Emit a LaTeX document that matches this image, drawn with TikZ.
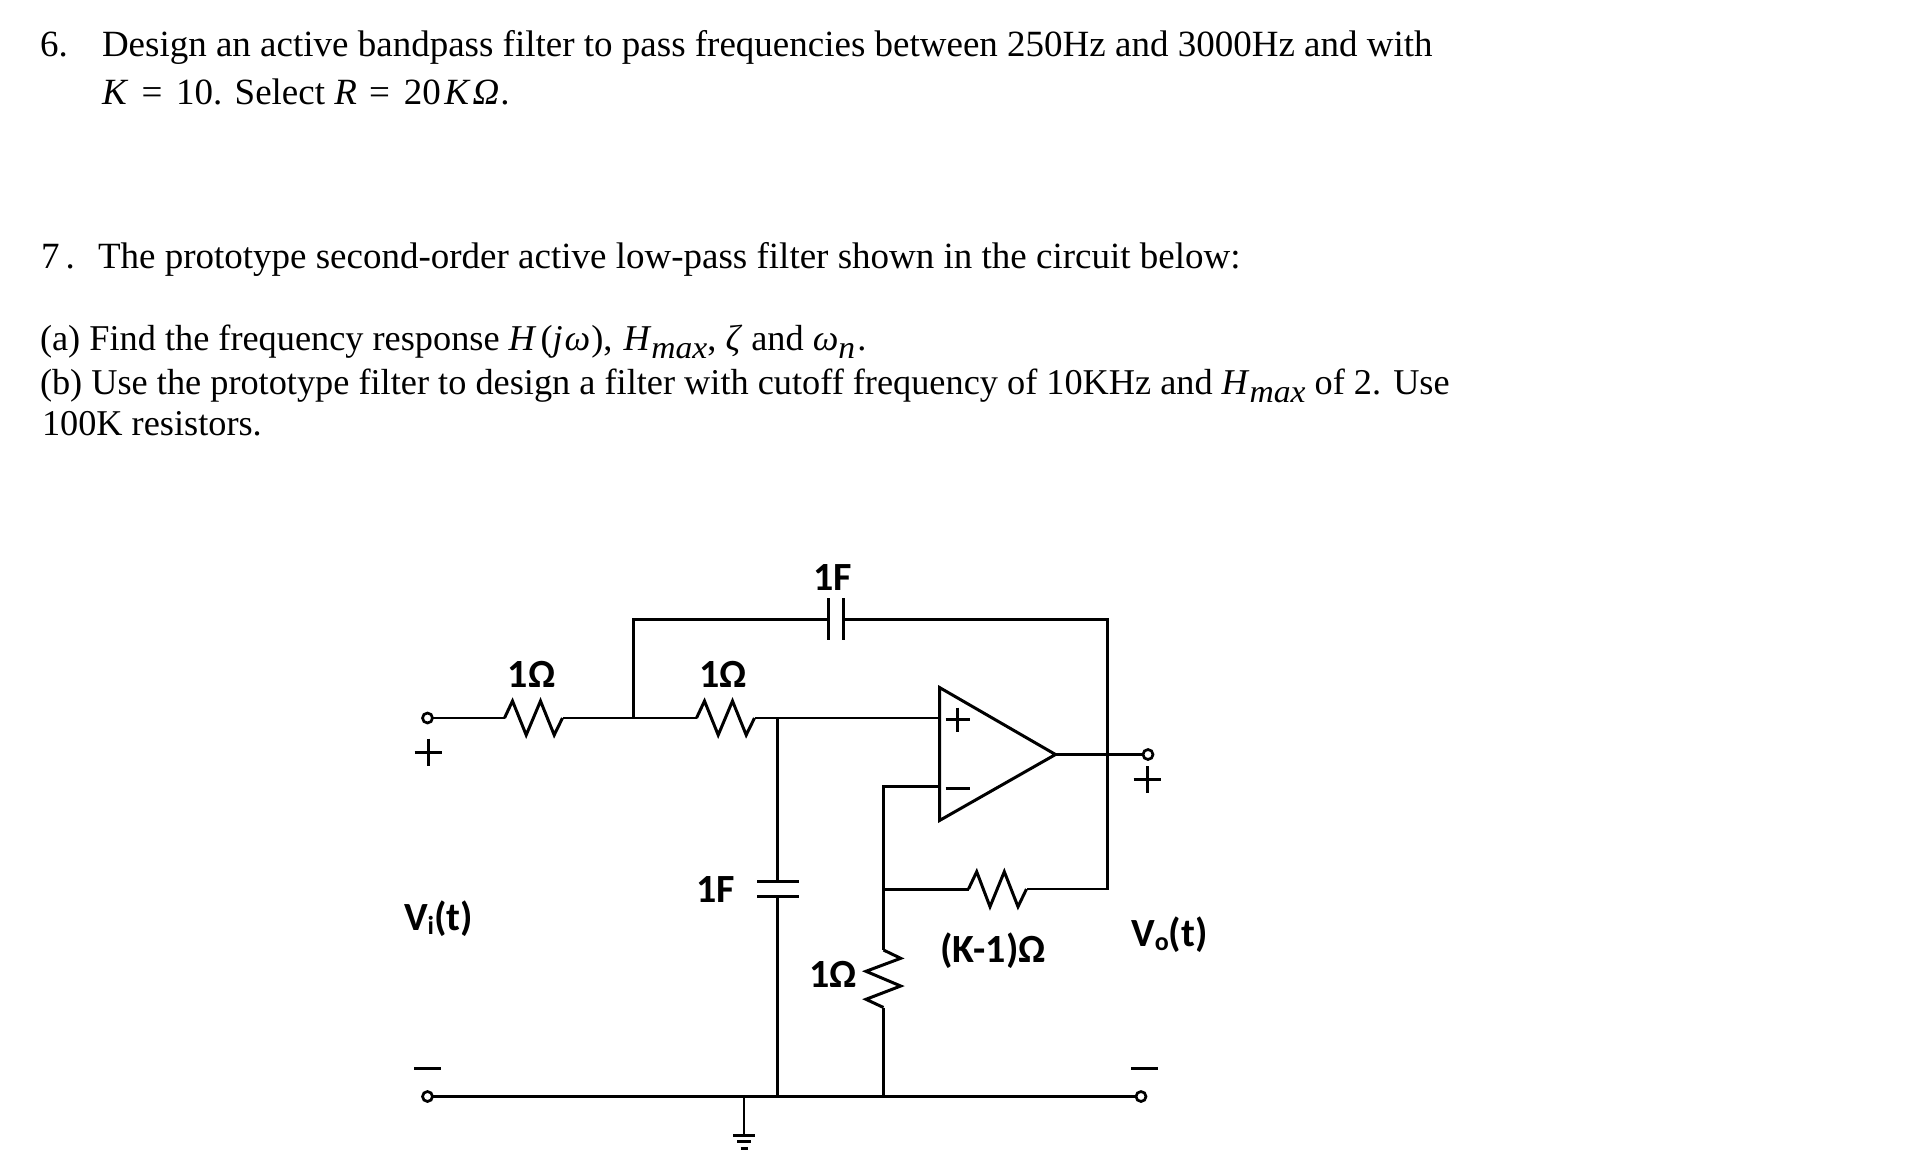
\documentclass[tikz,border=0pt]{standalone}
\usepackage{graphicx}
\usepackage{fontspec}
\setmainfont{Liberation Serif}
\newfontfamily\labelfont{Carlito}[BoldFont={Carlito Bold}]
\newcommand{\qsub}[1]{\raisebox{-7.5pt}{\scalebox{1.05}[1]{\fontsize{32}{32}\selectfont\itshape #1}}}
\newcommand{\qm}[1]{\textit{#1}}
\tikzset{
  wire/.style={line width=3pt,line join=miter,line cap=butt},
  thinwire/.style={line width=2.7pt,line join=miter,line cap=butt},
  markline/.style={line width=3pt},
  qtext/.style={anchor=base west,inner sep=0pt,outer sep=0pt,font=\fontsize{37}{37}\selectfont},
  qsmall/.style={anchor=base west,inner sep=0pt,outer sep=0pt,font=\fontsize{36.3}{36.3}\selectfont},
  clabel/.style={anchor=base,inner sep=0pt,outer sep=0pt,font=\fontsize{40}{40}\selectfont\labelfont\bfseries},
  terminal/.style={circle,draw,line width=2.7pt,fill=white,minimum size=10pt,inner sep=0pt,outer sep=0pt}
}
\begin{document}
\begin{tikzpicture}[x=1pt,y=-1pt]
\useasboundingbox[fill=white] (0,0) rectangle (1920,1172);
% ---------- question text
\node[qtext] (q6n) at (40,56.5) {6.};
\node[qtext] (q6a) at (102,56.5) {Design an active bandpass filter to pass frequencies between 250Hz and 3000Hz and with};
\node[qtext] (q6b) at (102,104.5) {\qm{K}\hspace{4pt} = \hspace{4.5pt}10. Select \qm{R}\hspace{3pt} = \hspace{4.5pt}20\hspace{3.5pt}\qm{K}\hspace{2pt}\qm{\char"03A9}\hspace{1pt}.};
\node[qtext] (q7n) at (41,268.5) {7\,.};
\node[qtext] (q7a) at (98,268.5) {The prototype second-order active low-pass filter shown in the circuit below:};
\node[qsmall] (q7b) at (40,350.5) {(a) Find the frequency response \qm{H}\hspace{4pt}(\qm{j}\hspace{2pt}\qm{\char"03C9}\hspace{1pt}),\hspace{2pt} \qm{H}\qsub{max}, \qm{\char"03B6} and \qm{\char"03C9}\qsub{n}\hspace{2pt}.};
\node[qsmall] (q7c) at (40,394.5) {(b) Use the prototype filter to design a filter with cutoff frequency of 10KHz and \qm{H}\qsub{max} of 2. Use};
\node[qsmall] (q7d) at (42,435.5) {100K resistors.};
% ---------- terminals
\node[terminal] (vip) at (427.5,718) {};
\node[terminal] (vim) at (427.5,1096.5) {};
\node[terminal] (vop) at (1148,754.5) {};
\node[terminal] (vom) at (1141,1096.5) {};
% ---------- junctions and component ends
\coordinate (r1a) at (504.5,718);
\coordinate (r1b) at (562.5,718);
\coordinate (jA) at (633,718);
\coordinate (r2a) at (696.5,718);
\coordinate (r2b) at (754.5,718);
\coordinate (jB) at (777.5,718);
\coordinate (topL) at (633,619.5);
\coordinate (c1a) at (828.5,619.5);
\coordinate (c1b) at (843.5,619.5);
\coordinate (topR) at (1107.5,619.5);
\coordinate (ampP) at (939.5,718);
\coordinate (ampM) at (939.5,786.5);
\coordinate (ampT) at (939.5,687.5);
\coordinate (ampB) at (939.5,820.5);
\coordinate (ampO) at (1055.5,754.5);
\coordinate (jO) at (1107.5,754.5);
\coordinate (cornM) at (883.5,786.5);
\coordinate (jF) at (883.5,889);
\coordinate (r3a) at (968.5,889);
\coordinate (r3b) at (1026.5,889);
\coordinate (cornF) at (1107.5,889);
\coordinate (c2a) at (777.5,881.5);
\coordinate (c2b) at (777.5,896);
\coordinate (r4a) at (883.5,950);
\coordinate (r4b) at (883.5,1007.5);
\coordinate (jG1) at (777.5,1096.5);
\coordinate (jG2) at (883.5,1096.5);
\coordinate (jG3) at (744,1096.5);
\coordinate (gnd) at (744,1135);
% ---------- wires
\draw[thinwire] (vip) -- (r1a);
\draw[thinwire] (r1b) -- (jA) -- (r2a);
\draw[thinwire] (r2b) -- (jB) -- (ampP);
\draw[wire] (jA) -- (topL) -- (c1a);
\draw[wire] (c1b) -- (topR) -- (jO);
\draw[thinwire] (jO) -- (cornF) -- (r3b);
\draw[thinwire] (ampO) -- (vop);
\draw[wire] (ampM) -- (cornM) -- (jF) -- (r3a);
\draw[wire] (jF) -- (r4a);
\draw[wire] (r4b) -- (jG2);
\draw[wire] (jB) -- (c2a);
\draw[wire] (c2b) -- (jG1);
\draw[wire] (vim) -- (vom);
\draw[thinwire] (jG3) -- (gnd);
% ---------- resistors
\draw[wire] (r1a) -- ++(8,-17) -- ++(13.7,34) -- ++(14.3,-34) -- ++(13.7,34) -- (r1b);
\draw[wire] (r2a) -- ++(8,-17) -- ++(13.7,34) -- ++(14.3,-34) -- ++(13.7,34) -- (r2b);
\draw[wire] (r3a) -- ++(8.2,-17.3) -- ++(13.3,35) -- ++(14.3,-35) -- ++(13.7,35) -- (r3b);
\draw[wire] (r4a) -- ++(17.2,8.3) -- ++(-34.7,13) -- ++(34.7,14.7) -- ++(-34.7,13.3) -- (r4b);
% ---------- capacitors
\draw[wire] (c1a |- 0,598) -- (c1a |- 0,640);
\draw[wire] (c1b |- 0,598) -- (c1b |- 0,640);
\draw[wire] (757,881.5) -- (799,881.5);
\draw[wire] (757,896) -- (799,896);
% ---------- op-amp
\draw[wire,line join=miter] (ampT) -- (ampO) -- (ampB) -- cycle;
\draw[markline] (945.7,719.5) -- (969.7,719.5) (957.7,707.5) -- (957.7,731.5);
\draw[markline] (945.7,788.8) -- (969.7,788.8);
% ---------- ground
\draw[markline] (733,1135) -- (755,1135);
\draw[markline] (737,1141.7) -- (751,1141.7);
\draw[markline] (740.5,1148.3) -- (747.5,1148.3);
% ---------- polarity marks
\draw[markline] (414.5,752) -- (441.5,752) (428,738.5) -- (428,765.5);
\draw[markline] (1133.5,779.5) -- (1160.5,779.5) (1147.3,766) -- (1147.3,793);
\draw[markline] (414,1068.3) -- (441,1068.3);
\draw[markline] (1131.3,1068.3) -- (1158,1068.3);
% ---------- labels
\node[clabel] (l1) at (531.5,687) {1\char"03A9};
\node[clabel] (l2) at (723,687) {1\char"03A9};
\node[clabel] (l3) at (833,590) {1F};
\node[clabel] (l4) at (716,902.5) {1F};
\node[clabel] (l5) at (833,987.5) {1\char"03A9};
\node[clabel] (l6) at (993,962.5) {(K-1)\char"03A9};
\node[clabel] (l7) at (438.5,930) {V\raisebox{-4pt}{\fontsize{26}{26}\selectfont i}(t)};
\node[clabel] (l8) at (1169.5,946) {V\raisebox{-4pt}{\fontsize{26}{26}\selectfont o}(t)};
\end{tikzpicture}
\end{document}
